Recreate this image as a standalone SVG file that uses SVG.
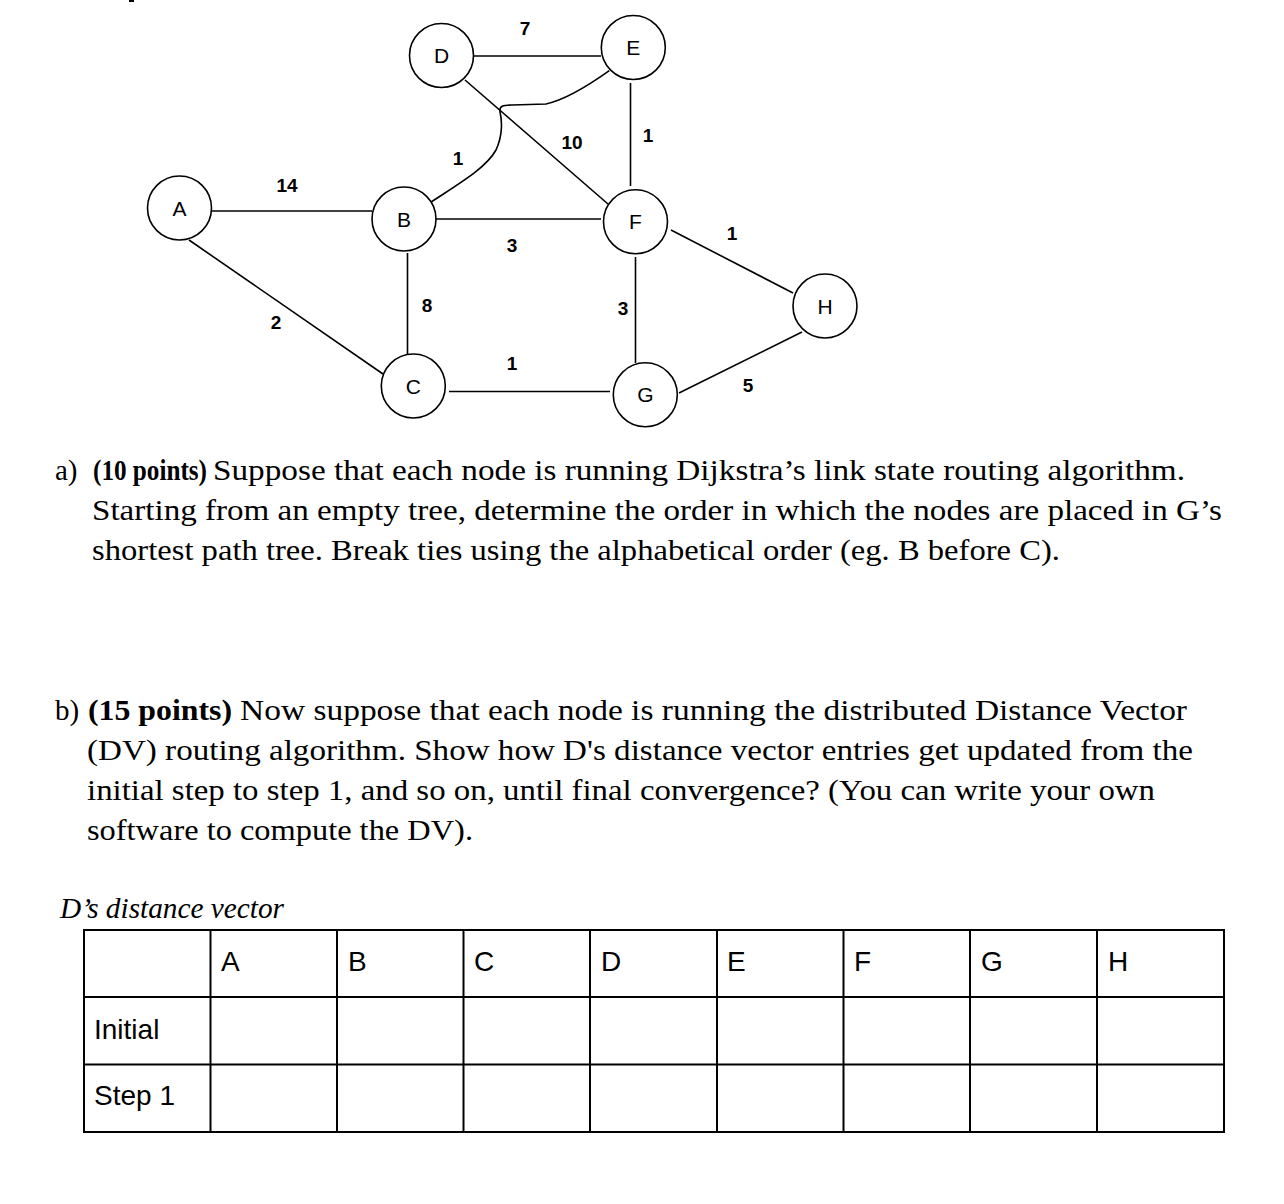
<svg xmlns="http://www.w3.org/2000/svg" width="1284" height="1204" viewBox="0 0 1284 1204">
<style>
.node circle{fill:#fff;stroke:#000;stroke-width:1.6}
.node text{font-family:"Liberation Sans",Arial,sans-serif;font-size:21px;text-anchor:middle;fill:#000}
.edge{fill:none;stroke:#000;stroke-width:1.6}
.wt{font-family:"Liberation Sans",Arial,sans-serif;font-size:19px;font-weight:bold;text-anchor:middle;fill:#000}
.para{font-family:"Liberation Serif","Times New Roman",serif;font-size:29px;fill:#000}
.bold{font-weight:bold}
.tbl{fill:none;stroke:#000;stroke-width:2}
.cell{font-family:"Liberation Sans",Arial,sans-serif;font-size:28px;fill:#000}
</style>
<rect width="1284" height="1204" fill="#fff"/>
<rect x="129" y="0" width="5" height="2" fill="#000"/>
<g id="connectors">
<line class="edge" x1="211" y1="211" x2="372" y2="211"/>
<line class="edge" x1="189" y1="240" x2="383" y2="374"/>
<line class="edge" x1="407.5" y1="253" x2="407.5" y2="354"/>
<line class="edge" x1="436" y1="219" x2="601" y2="219"/>
<line class="edge" x1="473" y1="56" x2="601" y2="56"/>
<line class="edge" x1="465" y1="80" x2="608" y2="204"/>
<path class="edge" d="M430.7,202.3 C460,183 486,168 496,150 C503,135 502,120 500,112 C499,106 503,105 512,105 L546,104 C565,100 585,88 609.3,70.7"/>
<line class="edge" x1="630.5" y1="83" x2="630.5" y2="186"/>
<line class="edge" x1="671" y1="230" x2="793" y2="293"/>
<line class="edge" x1="635.5" y1="257" x2="635.5" y2="363"/>
<line class="edge" x1="449" y1="391.5" x2="610" y2="391.5"/>
<line class="edge" x1="679" y1="393" x2="802" y2="332"/>
<text class="wt" x="525" y="35">7</text>
<text class="wt" x="287" y="192">14</text>
<text class="wt" x="458" y="165">1</text>
<text class="wt" x="572" y="149">10</text>
<text class="wt" x="648" y="142">1</text>
<text class="wt" x="512" y="252">3</text>
<text class="wt" x="427" y="312">8</text>
<text class="wt" x="276" y="329">2</text>
<text class="wt" x="512" y="370">1</text>
<text class="wt" x="732" y="240">1</text>
<text class="wt" x="623" y="315">3</text>
<text class="wt" x="748" y="392">5</text>
</g>
<g id="node-A" class="node"><circle cx="179.5" cy="208" r="32"/><text x="179.5" y="215.5">A</text></g>
<g id="node-B" class="node"><circle cx="404" cy="219" r="32"/><text x="404" y="226.5">B</text></g>
<g id="node-C" class="node"><circle cx="413.3" cy="386" r="32"/><text x="413.3" y="393.5">C</text></g>
<g id="node-D" class="node"><circle cx="441.5" cy="55.5" r="32"/><text x="441.5" y="63">D</text></g>
<g id="node-E" class="node"><circle cx="633.3" cy="47.5" r="32"/><text x="633.3" y="55">E</text></g>
<g id="node-F" class="node"><circle cx="635.5" cy="221.7" r="32"/><text x="635.5" y="229.2">F</text></g>
<g id="node-G" class="node"><circle cx="645.3" cy="394.7" r="32"/><text x="645.3" y="402.2">G</text></g>
<g id="node-H" class="node"><circle cx="825" cy="306" r="32"/><text x="825" y="313.5">H</text></g>

<g id="part-a">
<text class="para" x="55" y="480" font-size="24">a)</text>
<text class="para bold" x="93" y="480" font-size="21" textLength="114" lengthAdjust="spacingAndGlyphs">(10 points)</text>
<text class="para" x="213" y="480" textLength="972" lengthAdjust="spacingAndGlyphs">Suppose that each node is running Dijkstra’s link state routing algorithm.</text>
<text class="para" x="92" y="520" textLength="1130" lengthAdjust="spacingAndGlyphs">Starting from an empty tree, determine the order in which the nodes are placed in G’s</text>
<text class="para" x="92" y="560" textLength="968" lengthAdjust="spacingAndGlyphs">shortest path tree. Break ties using the alphabetical order (eg. B before C).</text>
</g>
<g id="part-b">
<text class="para" x="55" y="720" font-size="24">b)</text>
<text class="para bold" x="88" y="720" textLength="144" lengthAdjust="spacingAndGlyphs">(15 points)</text>
<text class="para" x="240" y="720" textLength="947" lengthAdjust="spacingAndGlyphs">Now suppose that each node is running the distributed Distance Vector</text>
<text class="para" x="87" y="760" textLength="1106" lengthAdjust="spacingAndGlyphs">(DV) routing algorithm. Show how D's distance vector entries get updated from the</text>
<text class="para" x="87" y="800" textLength="1068" lengthAdjust="spacingAndGlyphs">initial step to step 1, and so on, until final convergence? (You can write your own</text>
<text class="para" x="87" y="840" textLength="386" lengthAdjust="spacingAndGlyphs">software to compute the DV).</text>
</g>
<g id="table">
<text class="para" x="60" y="918" font-style="italic" textLength="224" lengthAdjust="spacingAndGlyphs">D’s distance vector</text>
<rect class="tbl" x="84" y="930" width="1140" height="202"/>
<line class="tbl" x1="84" y1="997" x2="1224" y2="997"/>
<line class="tbl" x1="84" y1="1064.5" x2="1224" y2="1064.5"/>
<line class="tbl" x1="210.5" y1="930" x2="210.5" y2="1132"/>
<line class="tbl" x1="337" y1="930" x2="337" y2="1132"/>
<line class="tbl" x1="463.5" y1="930" x2="463.5" y2="1132"/>
<line class="tbl" x1="590" y1="930" x2="590" y2="1132"/>
<line class="tbl" x1="717" y1="930" x2="717" y2="1132"/>
<line class="tbl" x1="843.5" y1="930" x2="843.5" y2="1132"/>
<line class="tbl" x1="970" y1="930" x2="970" y2="1132"/>
<line class="tbl" x1="1097" y1="930" x2="1097" y2="1132"/>
<text class="cell" x="221" y="971">A</text>
<text class="cell" x="348" y="971">B</text>
<text class="cell" x="474" y="971">C</text>
<text class="cell" x="601" y="971">D</text>
<text class="cell" x="727" y="971">E</text>
<text class="cell" x="854" y="971">F</text>
<text class="cell" x="981" y="971">G</text>
<text class="cell" x="1108" y="971">H</text>
<text class="cell" x="94" y="1039">Initial</text>
<text class="cell" x="94" y="1105">Step 1</text>
</g>
</svg>
